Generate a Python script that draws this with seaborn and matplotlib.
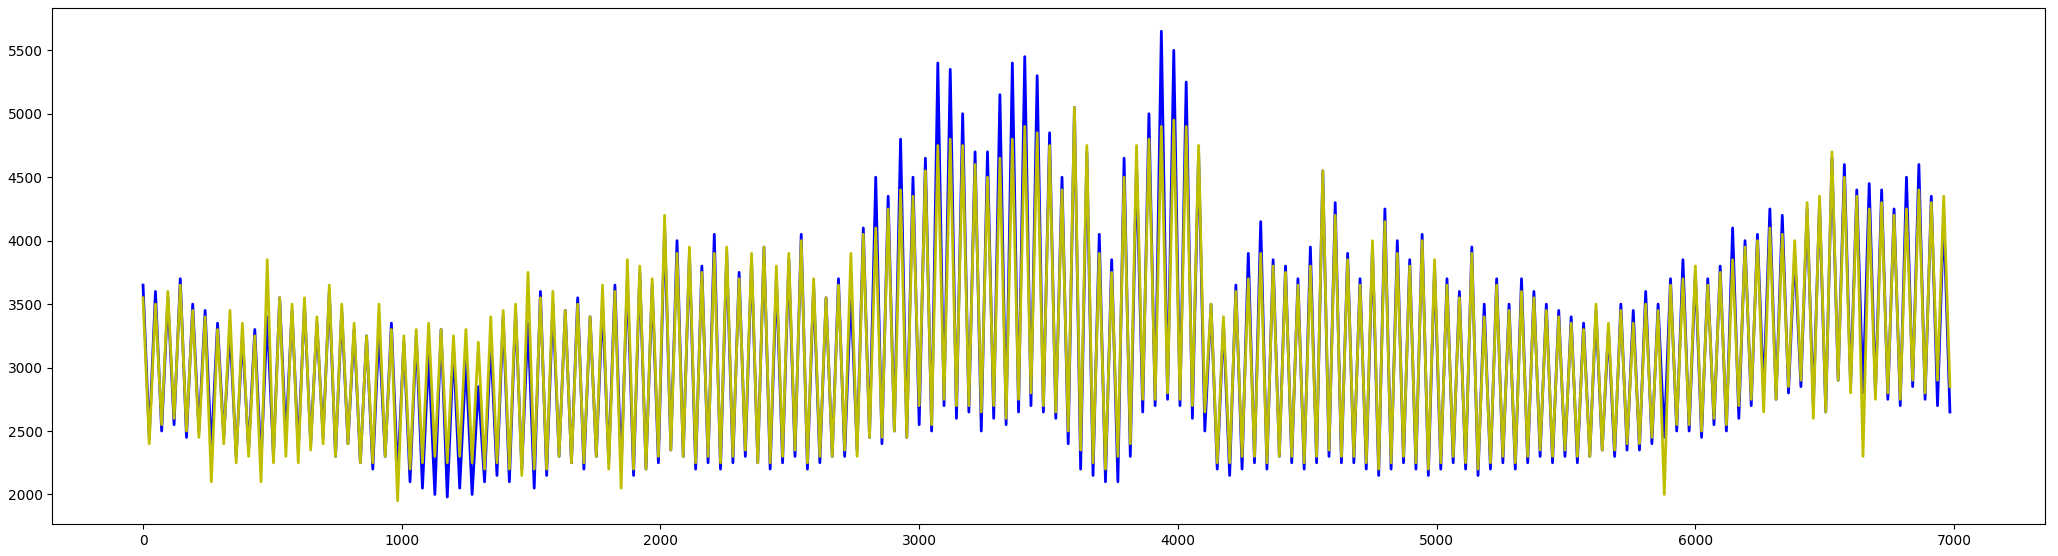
"""Recreate dense two-series load plot (blue vs yellow)."""
import numpy as np
import pandas as pd
import matplotlib
matplotlib.use("Agg")
import matplotlib.pyplot as plt
import seaborn as sns

CYCLE = 48  # samples per peak/trough cycle

blue_high = [
    3650, 3600, 3550, 3700, 3500, 3450, 3350, 3300, 3250, 3300,
    3400, 3550, 3450, 3500, 3350, 3600, 3450, 3300, 3250, 3300,
    3350, 3200, 3250, 3100, 3300, 3150, 3050, 2850, 3200, 3400,
    3450, 3350, 3600, 3500, 3450, 3550, 3400, 3500, 3650, 3700,
    3750, 3650, 4100, 4000, 3900, 3800, 4050, 3900, 3750, 3850,
    3950, 3700, 3850, 4050, 3650, 3550, 3700, 3600, 4100, 4500,
    4350, 4800, 4500, 4650, 5400, 5350, 5000, 4700, 4700, 5150,
    5400, 5450, 5300, 4850, 4500, 5050, 4700, 4050, 3850, 4650,
    4600, 5000, 5650, 5500, 5250, 4700, 3500, 3350, 3650, 3900,
    4150, 3850, 3800, 3700, 3950, 4550, 4300, 3900, 3700, 3950,
    4250, 4000, 3850, 4050, 3800, 3700, 3600, 3950, 3500, 3700,
    3500, 3700, 3600, 3500, 3450, 3400, 3350, 3450, 3300, 3500,
    3450, 3600, 3500, 3700, 3850, 3750, 3700, 3800, 4100, 4000,
    4050, 4250, 4200, 3900, 4250, 4300, 4650, 4600, 4400, 4450,
    4400, 4250, 4500, 4600, 4350, 4200,
]
blue_low = [
    2450, 2500, 2550, 2450, 2500, 2350, 2450, 2300, 2350, 2250,
    2300, 2450, 2350, 2400, 2450, 2300, 2400, 2250, 2200, 2300,
    2150, 2100, 2050, 2000, 1980, 2050, 2000, 2100, 2150, 2100,
    2200, 2050, 2150, 2300, 2250, 2200, 2300, 2250, 2200, 2150,
    2200, 2250, 2350, 2300, 2200, 2250, 2200, 2250, 2300, 2250,
    2200, 2250, 2300, 2200, 2250, 2300, 2300, 2350, 2450, 2400,
    2500, 2450, 2550, 2500, 2700, 2600, 2650, 2500, 2600, 2550,
    2650, 2700, 2650, 2600, 2400, 2200, 2150, 2100, 2100, 2300,
    2650, 2700, 2750, 2700, 2600, 2500, 2200, 2150, 2200, 2250,
    2200, 2300, 2250, 2200, 2250, 2300, 2250, 2250, 2200, 2150,
    2200, 2250, 2200, 2150, 2200, 2250, 2200, 2150, 2200, 2250,
    2200, 2250, 2300, 2250, 2300, 2250, 2300, 2350, 2300, 2350,
    2350, 2400, 2450, 2500, 2500, 2450, 2550, 2500, 2600, 2700,
    2800, 2750, 2800, 2850, 2700, 2650, 2900, 2850, 2800, 2800,
    2750, 2700, 2850, 2750, 2700, 2650,
]
yellow_high = [
    3550, 3500, 3600, 3650, 3450, 3400, 3300, 3450, 3350, 3250,
    3850, 3550, 3500, 3550, 3400, 3650, 3500, 3350, 3250, 3500,
    3300, 3250, 3300, 3350, 3300, 3250, 3300, 3200, 3400, 3450,
    3500, 3750, 3550, 3600, 3450, 3500, 3400, 3650, 3600, 3850,
    3800, 3700, 4200, 3900, 3950, 3750, 3900, 3950, 3700, 3900,
    3950, 3800, 3900, 4000, 3700, 3550, 3650, 3900, 4050, 4100,
    4250, 4400, 4350, 4550, 4750, 4800, 4750, 4600, 4500, 4650,
    4800, 4900, 4850, 4750, 4400, 5050, 4750, 3900, 3750, 4500,
    4750, 4800, 4900, 4950, 4900, 4750, 3500, 3400, 3600, 3700,
    3900, 3800, 3750, 3650, 3800, 4550, 4200, 3850, 3650, 4000,
    4150, 3900, 3800, 4000, 3850, 3650, 3550, 3900, 3400, 3650,
    3450, 3600, 3550, 3450, 3400, 3350, 3300, 3500, 3350, 3450,
    3350, 3500, 3450, 3650, 3700, 3800, 3650, 3750, 3850, 3950,
    4000, 4100, 4050, 4000, 4300, 4350, 4700, 4500, 4350, 4250,
    4300, 4200, 4250, 4400, 4300, 4350,
]
yellow_low = [
    2400, 2550, 2600, 2500, 2450, 2100, 2400, 2250, 2300, 2100,
    2250, 2300, 2250, 2350, 2400, 2300, 2400, 2250, 2250, 2300,
    1950, 2200, 2250, 2300, 2250, 2300, 2250, 2200, 2250, 2200,
    2150, 2200, 2200, 2300, 2250, 2250, 2300, 2200, 2050, 2200,
    2200, 2300, 2350, 2300, 2250, 2300, 2250, 2300, 2350, 2250,
    2250, 2300, 2350, 2250, 2300, 2300, 2350, 2300, 2450, 2450,
    2500, 2450, 2700, 2550, 2750, 2700, 2700, 2650, 2700, 2600,
    2750, 2800, 2700, 2650, 2500, 2350, 2250, 2200, 2300, 2400,
    2750, 2750, 2800, 2750, 2700, 2650, 2250, 2250, 2300, 2300,
    2250, 2300, 2300, 2250, 2300, 2350, 2300, 2300, 2250, 2200,
    2250, 2300, 2250, 2200, 2250, 2300, 2250, 2200, 2250, 2300,
    2250, 2300, 2350, 2300, 2350, 2300, 2300, 2350, 2350, 2400,
    2400, 2450, 2000, 2550, 2550, 2500, 2600, 2550, 2700, 2750,
    2650, 2750, 2850, 2900, 2600, 2650, 2900, 2800, 2300, 2750,
    2800, 2750, 2900, 2800, 2900, 2850,
]


def zigzag(high, low):
    """Interleave per-cycle peaks and troughs into one series."""
    n = len(high)
    idx = np.empty(2 * n)
    idx[0::2] = np.arange(n) * CYCLE
    idx[1::2] = np.arange(n) * CYCLE + CYCLE // 2
    vals = np.empty(2 * n)
    vals[0::2] = high
    vals[1::2] = low
    return pd.DataFrame({"x": idx, "y": vals})


blue = zigzag(blue_high, blue_low)
yellow = zigzag(yellow_high, yellow_low)

fig = plt.figure(figsize=(20.58, 5.56), dpi=100)
ax = fig.add_axes([0.0255, 0.057, 0.968, 0.929])
sns.lineplot(data=blue, x="x", y="y", ax=ax, color="b", linewidth=2,
             estimator=None, sort=False)
sns.lineplot(data=yellow, x="x", y="y", ax=ax, color="y", linewidth=2,
             estimator=None, sort=False)
ax.set_xlabel("")
ax.set_ylabel("")
ax.set_xticks([0, 1000, 2000, 3000, 4000, 5000, 6000, 7000])
ax.set_xlim(-350, 7350)
fig.savefig("out.png", dpi=100)
